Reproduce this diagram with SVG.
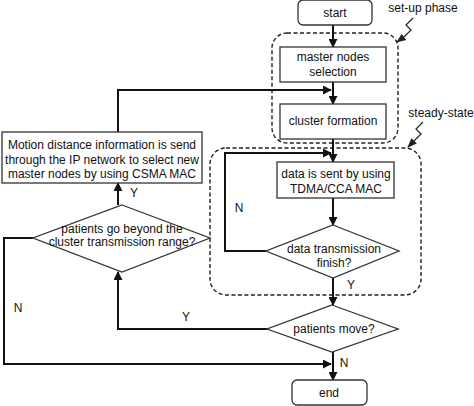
<svg xmlns="http://www.w3.org/2000/svg" width="474" height="406" viewBox="0 0 474 406">
<style>
.box{fill:#fff;stroke:#333;stroke-width:1.3}
.dash{fill:none;stroke:#222;stroke-width:1.4;stroke-dasharray:4,2.5}
.t{font-family:"Liberation Sans",Arial,sans-serif;font-size:12px;fill:#111;text-anchor:middle}
.c{fill:none;stroke:#111;stroke-width:2}
.s{fill:none;stroke:#222;stroke-width:1.2}
</style>
<defs>
<marker id="a" viewBox="0 0 10 10" refX="9" refY="5" markerWidth="4.5" markerHeight="4.5" orient="auto" markerUnits="strokeWidth">
<path d="M0,0 L10,5 L0,10 z" fill="#111"/>
</marker>
<marker id="b" viewBox="0 0 10 10" refX="9" refY="5" markerWidth="8" markerHeight="8" orient="auto" markerUnits="strokeWidth">
<path d="M0,1 L10,5 L0,9 z" fill="#222"/>
</marker>
</defs>
<rect width="474" height="406" fill="#fff"/>
<g id="phases">
<rect class="dash" x="272" y="33" width="126" height="110" rx="15"/>
<rect class="dash" x="210" y="148" width="211" height="147" rx="16"/>
<text class="t" x="423" y="12" style="font-size:12px">set-up phase</text>
<text class="t" x="441" y="117">steady-state</text>
<path class="s" d="M413,18 L406,25 L411,30 L404,37 L397,42" marker-end="url(#b)"/>
<path class="s" d="M423,122 L416,129 L421,134 L414,141 L408,147" marker-end="url(#b)"/>
</g>
<g id="connectors">
<path class="c" d="M333,25 V47" marker-end="url(#a)"/>
<path class="c" d="M333,82 V104" marker-end="url(#a)"/>
<path class="c" d="M333,139 V162" marker-end="url(#a)"/>
<path class="c" d="M333,198 V225" marker-end="url(#a)"/>
<path class="c" d="M333,278 V305" marker-end="url(#a)"/>
<path class="c" d="M333,352 V380" marker-end="url(#a)"/>
<path class="c" d="M266,251 H225 V153 H331" marker-end="url(#a)"/>
<path class="c" d="M118,132 V90 H331" marker-end="url(#a)"/>
<path class="c" d="M118,205 V183" marker-end="url(#a)"/>
<path class="c" d="M267,329 H118 V272" marker-end="url(#a)"/>
<path class="c" d="M33,238 H4 V364 H331" marker-end="url(#a)"/>
<text class="t" x="239" y="212">N</text>
<text class="t" x="351" y="289">Y</text>
<text class="t" x="134" y="197">Y</text>
<text class="t" x="186" y="321">Y</text>
<text class="t" x="18" y="312">N</text>
<text class="t" x="344" y="367">N</text>
</g>
<g id="start">
<rect class="box" x="298" y="0" width="74" height="25" rx="5"/>
<text class="t" x="335" y="17">start</text>
</g>
<g id="master">
<rect class="box" x="280" y="47" width="106" height="35"/>
<text class="t" x="333" y="61">master nodes</text>
<text class="t" x="333" y="76">selection</text>
</g>
<g id="cluster">
<rect class="box" x="280" y="104" width="106" height="35"/>
<text class="t" x="333" y="125">cluster formation</text>
</g>
<g id="datasent">
<rect class="box" x="277" y="162" width="117" height="36"/>
<text class="t" x="336" y="178">data is sent by using</text>
<text class="t" x="336" y="193">TDMA/CCA MAC</text>
</g>
<g id="finish">
<polygon class="box" points="333,225 399,251 333,278 266,251"/>
<text class="t" x="334" y="253">data transmission</text>
<text class="t" x="334" y="267">finish?</text>
</g>
<g id="move">
<polygon class="box" points="332,305 398,329 332,352 267,329"/>
<text class="t" x="334" y="333">patients move?</text>
</g>
<g id="end">
<rect class="box" x="292" y="380" width="75" height="25" rx="5"/>
<text class="t" x="329" y="397">end</text>
</g>
<g id="motion">
<rect class="box" x="2" y="132" width="200" height="51"/>
<text class="t" x="102" y="149">Motion distance information is send</text>
<text class="t" x="102" y="164">through the IP network to select new</text>
<text class="t" x="102" y="178">master nodes by using CSMA MAC</text>
</g>
<g id="beyond">
<polygon class="box" points="122,205 210,238 122,272 33,238"/>
<text class="t" x="122" y="233">patients go beyond the</text>
<text class="t" x="122" y="246">cluster transmission range?</text>
</g>
</svg>
